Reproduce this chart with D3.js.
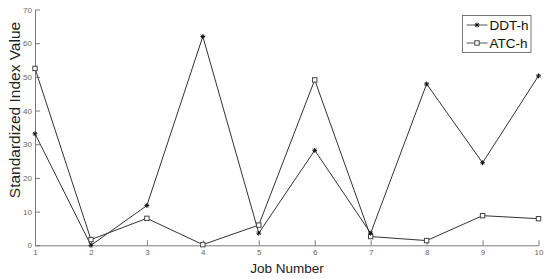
<!DOCTYPE html>
<html>
<head>
<meta charset="utf-8">
<script src="https://cdn.jsdelivr.net/npm/d3@7"></script>
<style>
  body { margin: 0; background: #fff; }
  svg { font-family: Arial, "Liberation Sans", sans-serif; }
</style>
</head>
<body>
<div id="chart"></div>
<script>
var jobs = [1, 2, 3, 4, 5, 6, 7, 8, 9, 10];
var ddt = [33.1, 0, 11.8, 62, 3.6, 28.2, 3.6, 47.9, 24.5, 50.3];
var atc = [52.5, 1.7, 8, 0.2, 6, 49.1, 2.6, 1.4, 8.8, 7.9];
var yTicks = [0, 10, 20, 30, 40, 50, 60, 70];
var seriesNames = ['DDT-h', 'ATC-h'];

var width = 550, height = 279;
var margin = { left: 35, right: 12, top: 9.5, bottom: 34 };

var svg = d3.select('#chart').append('svg')
  .attr('width', width)
  .attr('height', height);

var x = d3.scaleLinear().domain([1, 10]).range([margin.left, 538.5]);
var y = d3.scaleLinear().domain([0, 70]).range([245.3, margin.top]);

var axisColor = '#7a7a7a';

// x axis, ticks pointing inward
var gx = svg.append('g')
  .attr('transform', 'translate(0,' + y(0) + ')')
  .call(d3.axisBottom(x).tickValues(jobs).tickSizeInner(-5).tickSizeOuter(0).tickPadding(4));
gx.select('.domain').attr('stroke', axisColor);
gx.selectAll('.tick line').attr('stroke', axisColor);
gx.selectAll('.tick text').attr('fill', '#666').attr('font-size', '8px');

// y axis
var gy = svg.append('g')
  .attr('transform', 'translate(' + x(1) + ',0)')
  .call(d3.axisLeft(y).tickValues(yTicks).tickSizeInner(-5).tickSizeOuter(0).tickPadding(3));
gy.select('.domain').attr('stroke', axisColor);
gy.selectAll('.tick line').attr('stroke', axisColor);
gy.selectAll('.tick text').attr('fill', '#666').attr('font-size', '8px');

// axis titles
svg.append('text')
  .attr('x', 287).attr('y', 273)
  .attr('text-anchor', 'middle')
  .attr('font-size', '13.5px')
  .attr('fill', '#222')
  .text('Job Number');

svg.append('text')
  .attr('transform', 'translate(20,110) rotate(-90)')
  .attr('text-anchor', 'middle')
  .attr('font-size', '15.5px')
  .attr('fill', '#222')
  .text('Standardized Index Value');

var line = d3.line()
  .x((d, i) => x(jobs[i]))
  .y(d => y(d));

var lineColor = '#333';

function starPath(cx, cy, r) {
  var p = '';
  for (var k = 0; k < 4; k++) {
    var a = k * Math.PI / 4;
    var dx = r * Math.cos(a), dy = r * Math.sin(a);
    p += 'M' + (cx - dx) + ',' + (cy - dy) + 'L' + (cx + dx) + ',' + (cy + dy);
  }
  return p;
}

function drawStar(g, cx, cy) {
  g.append('path')
    .attr('d', starPath(cx, cy, 2.4))
    .attr('stroke', '#111')
    .attr('stroke-width', 1)
    .attr('fill', 'none');
}

function drawSquare(g, cx, cy) {
  g.append('rect')
    .attr('x', cx - 2.2).attr('y', cy - 2.2)
    .attr('width', 4.4).attr('height', 4.4)
    .attr('fill', '#fff')
    .attr('stroke', '#444')
    .attr('stroke-width', 1);
}

var plot = svg.append('g');

plot.append('path')
  .datum(atc)
  .attr('d', line)
  .attr('fill', 'none')
  .attr('stroke', lineColor)
  .attr('stroke-width', 1);

plot.append('path')
  .datum(ddt)
  .attr('d', line)
  .attr('fill', 'none')
  .attr('stroke', lineColor)
  .attr('stroke-width', 1);

atc.forEach((v, i) => drawSquare(plot, x(jobs[i]), y(v)));
ddt.forEach((v, i) => drawStar(plot, x(jobs[i]), y(v)));

// legend
var leg = svg.append('g');
leg.append('rect')
  .attr('x', 462.5).attr('y', 15.5)
  .attr('width', 68.5).attr('height', 37)
  .attr('fill', '#fff')
  .attr('stroke', '#555')
  .attr('stroke-width', 0.8);

var rowY = [25, 43];
seriesNames.forEach((name, i) => {
  leg.append('line')
    .attr('x1', 466.5).attr('x2', 487.5)
    .attr('y1', rowY[i]).attr('y2', rowY[i])
    .attr('stroke', '#555').attr('stroke-width', 1);
  if (i === 0) drawStar(leg, 477, rowY[i]);
  else drawSquare(leg, 477, rowY[i]);
  leg.append('text')
    .attr('x', 489.5).attr('y', rowY[i] + 5)
    .attr('font-size', '13.5px')
    .attr('fill', '#111')
    .text(name);
});
</script>
</body>
</html>
